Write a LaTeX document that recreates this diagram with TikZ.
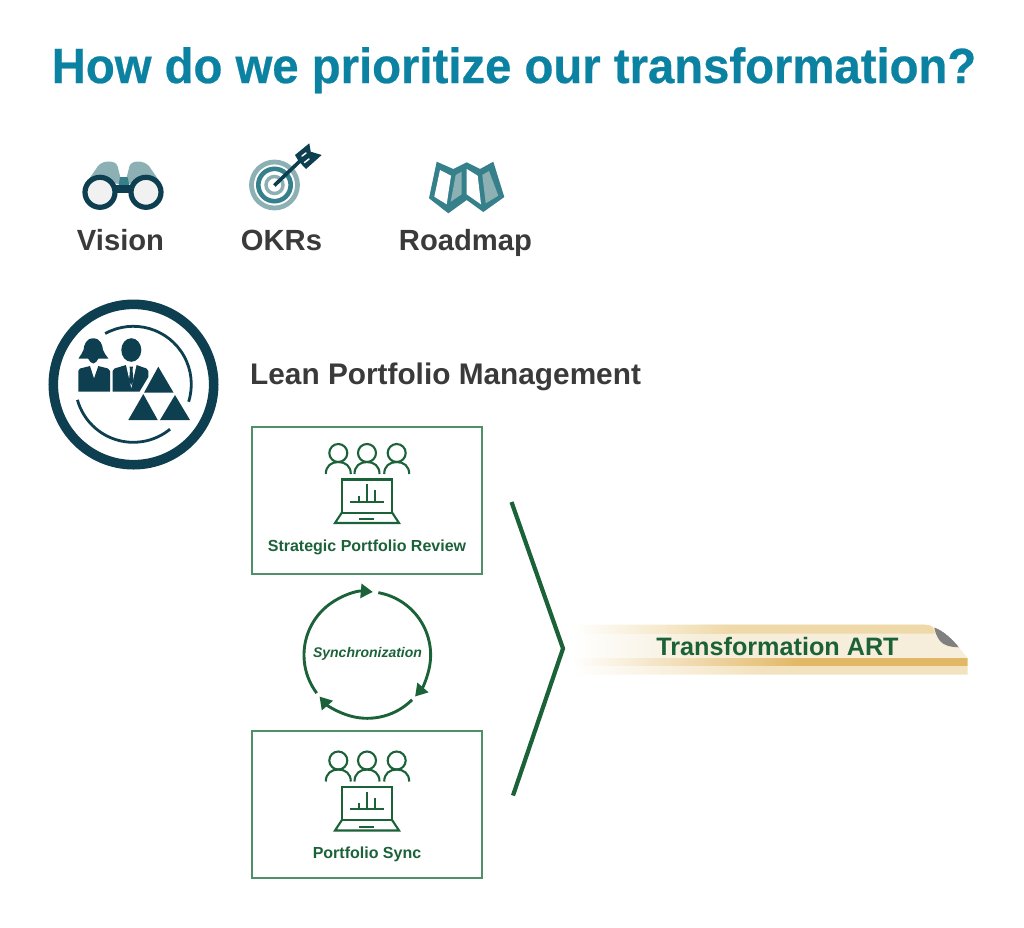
\documentclass[tikz,border=0pt]{standalone}
\usepackage{fontspec}
\setmainfont{Liberation Sans}
\newfontfamily\titlefont[BoldFeatures={FakeStretch=0.955,FakeBold=0.5}]{Liberation Sans}
\usetikzlibrary{arrows.meta,calc}
\definecolor{titleteal}{HTML}{0B82A1}
\definecolor{darkink}{HTML}{0D3F50}
\definecolor{midteal}{HTML}{35808A}
\definecolor{paleteal}{HTML}{8DB0B4}
\definecolor{labelgrey}{HTML}{3A3A3A}
\definecolor{leaf}{HTML}{1B6239}
\definecolor{leafbox}{HTML}{4F9069}
\definecolor{bandA}{HTML}{EFD9A8}
\definecolor{bandB}{HTML}{F6EEDA}
\definecolor{bandC}{HTML}{E2B866}
\definecolor{bandD}{HTML}{F3E2BE}
\definecolor{lensfill}{HTML}{F1F1F1}
\tikzset{
  x=1pt,y=-1pt,
  headline/.style={font=\titlefont\bfseries\fontsize{49.5}{52}\selectfont,text=titleteal,anchor=base,inner sep=0},
  iconlabel/.style={font=\bfseries\fontsize{29.2}{31}\selectfont,text=labelgrey,anchor=base,inner sep=0},
  sectionlabel/.style={font=\bfseries\fontsize{29.8}{32}\selectfont,text=labelgrey,anchor=base west,inner sep=0},
  boxlabel/.style={font=\bfseries\fontsize{16}{18}\selectfont,text=leaf,anchor=base,inner sep=0},
  syncbox/.style={draw=leafbox,line width=1.3pt,fill=white,minimum width=230pt,minimum height=147pt,inner sep=0},
  synclabel/.style={font=\bfseries\itshape\fontsize{14}{16}\selectfont,text=leaf,anchor=base,inner sep=0},
  trainlabel/.style={font=\bfseries\fontsize{25.2}{27}\selectfont,text=leaf,anchor=base,inner sep=0},
  looparc/.style={draw=leaf,line width=2.9pt,-{Triangle[length=12pt,width=14pt]}},
  iconline/.style={draw=leaf,line width=2.1pt,line join=miter},
  teamlaptop/.pic={
    \foreach \hx in {-28.7,0,29.7}{
      \draw[iconline] (\hx,-1) circle[radius=9];
      \draw[iconline] (\hx-12.5,20) .. controls (\hx-12.5,12) and (\hx-7,8) .. (\hx,8) .. controls (\hx+7,8) and (\hx+12.5,12) .. (\hx+12.5,20);
    }
    \draw[iconline] (-25.3,25.5) rectangle (25.3,58.8);
    \draw[iconline] (-25.3,58.8) -- (-32,69) -- (32,69) -- (25.3,58.8);
    \draw[iconline] (-17,47.7) -- (17,47.7);
    \draw[iconline] (-8.3,47.7) -- (-8.3,41.5);
    \draw[iconline] (0,47.7) -- (0,30);
    \draw[iconline] (8.3,47.7) -- (8.3,36);
    \draw[iconline] (-8.3,65.2) -- (7,65.2);
  }
}
\begin{document}
\begin{tikzpicture}
\useasboundingbox (0,0) rectangle (1024,927);
% title
\node[headline] (title) at (514,83) {How do we prioritize our transformation?};

% binoculars
\fill[paleteal] (87,182) -- (98,166) .. controls (101,162.5) and (105,161.5) .. (109,161.5) .. controls (113,161.5) and (116.5,163) .. (117.5,166) -- (122,184) -- cycle;
\fill[paleteal] (125,184) -- (129.5,166) .. controls (130.5,163) and (134,161.5) .. (138,161.5) .. controls (142,161.5) and (146,163) .. (149,166) -- (160,182) -- cycle;
\fill[midteal] (120,177) -- (127.5,177) -- (129.5,186) -- (118.5,186) -- cycle;
\fill[darkink] (113,185) rectangle (134,193);
\draw[darkink,line width=5.2pt,fill=lensfill] (100,192.3) circle[radius=15];
\draw[darkink,line width=5.2pt,fill=lensfill] (146,192.3) circle[radius=15];
\node[iconlabel] (vision) at (120.5,250) {Vision};

% target
\draw[paleteal,line width=4.8pt] (274.5,185) circle[radius=23];
\draw[midteal,line width=4.6pt] (274.5,185) circle[radius=16.2];
\draw[paleteal,line width=3.5pt] (274.5,185) circle[radius=8.5];
\draw[darkink,line width=3.6pt] (274.3,185.5) -- (300,161);
\fill[darkink] (295,155) -- (309.3,143.3) -- (310.7,151.7) -- (321.7,155) -- (306,169) -- (298.5,161) -- cycle;
\draw[white,line width=1.5pt,line cap=round] (302,156) -- (306,153) (304.5,162.5) -- (309,159);
\node[iconlabel] (okrs) at (281.5,250) {OKRs};

% map
\fill[midteal] (436.7,161.7) -- (453.3,169) -- (466.7,162.3) -- (480,169) -- (493.3,161.7) -- (504.3,197) -- (483.3,212) -- (466.7,200) -- (448.3,213.3) -- (429,198.3) -- cycle;
\fill[white] (440,170) -- (451,175.7) -- (446.7,204.3) -- (434.3,196.7) -- cycle;
\fill[paleteal] (455.7,175) -- (461.7,171.7) -- (461.7,194.3) -- (450.7,201.7) -- cycle;
\fill[white] (466.7,169) -- (477.7,175.7) -- (481,204.3) -- (466.7,194.3) -- cycle;
\fill[paleteal] (482.3,175) -- (489,171) -- (498.3,195.7) -- (485.7,203.3) -- cycle;
\node[iconlabel] (roadmap) at (465.5,250) {Roadmap};

% LPM emblem
\draw[darkink,line width=9.6pt] (133.5,384.5) circle[radius=80.2];
\coordinate (lpmc) at (133.3,384.3);
\draw[darkink,line width=2.8pt] (lpmc) ++(119:58pt) arc[start angle=119,end angle=-17.5,radius=58pt];
\draw[darkink,line width=2.8pt] (lpmc) ++(195.6:58pt) arc[start angle=195.6,end angle=309.3,radius=58pt];
% woman
\fill[darkink] (93.3,338.3) .. controls (86,338.3) and (84,345) .. (83.5,350) .. controls (82.5,353) and (80,356) .. (78.5,358.5) -- (88,358.5) .. controls (89.5,361) and (91,363.5) .. (93.3,363.5) .. controls (95.5,363.5) and (97,361) .. (98.5,358.5) -- (108.3,358.5) .. controls (106.5,356) and (104,353) .. (103,350) .. controls (102.5,345) and (100.5,338.3) .. (93.3,338.3) -- cycle;
\fill[darkink] (78.3,391.7) -- (78.3,371) -- (80,368.5) -- (90,366) -- (94,378.5) -- (98.3,366) -- (108,368.5) -- (110,371) -- (110,391.7) -- cycle;
% man
\fill[darkink] (131.3,350) ellipse[x radius=10,y radius=11.8];
\fill[darkink] (112.7,391.7) -- (112.7,371) -- (114.5,368.5) -- (126,365) -- (136.5,365) -- (146.5,368.5) -- (148.3,371) -- (148.3,377) -- (139.5,391.7) -- cycle;
\fill[white] (126,365) -- (136.5,365) -- (131.3,388) -- cycle;
\fill[darkink] (129.5,366.5) -- (133,366.5) -- (132.5,369.5) -- (133.5,381) -- (131.3,385) -- (129,381) -- (130,369.5) -- cycle;
% triangles
\fill[darkink] (158.3,366.7) -- (173.6,392.7) -- (144,392.7) -- cycle;
\fill[darkink] (143.3,394) -- (157.7,420) -- (128.3,420) -- cycle;
\fill[darkink] (175,395) -- (190,420) -- (160,420) -- cycle;

\node[sectionlabel] (lpm) at (250,384) {Lean Portfolio Management};

% boxes
\node[syncbox] (review) at (367,500.5) {};
\pic at (367,454) {teamlaptop};
\node[boxlabel] (reviewlabel) at (367,551) {Strategic Portfolio Review};
\node[syncbox] (sync) at (367,804.5) {};
\pic at (367,761.5) {teamlaptop};
\node[boxlabel] (synclbl) at (367,858.5) {Portfolio Sync};

% loop
\coordinate (loopc) at (367.3,655);
\draw[looparc] (loopc) ++(217:63.3pt) arc[start angle=217,end angle=85,radius=63.3pt];
\draw[looparc] (loopc) ++(80:63.3pt) arc[start angle=80,end angle=-41,radius=63.3pt];
\draw[looparc] (loopc) ++(-45:63.3pt) arc[start angle=-45,end angle=-139,radius=63.3pt];
\node[synclabel] (synctext) at (367.5,657) {Synchronization};

% chevron
\coordinate (chevA) at (511.5,502);
\coordinate (chevB) at (563,648.5);
\coordinate (chevC) at (513,795.5);
\draw[leaf,line width=4.2pt,line join=miter] (chevA) -- (chevB) -- (chevC);

% train
\begin{scope}
\clip (560,624.7) -- (925,624.7) .. controls (929,625) and (932,626) .. (934.3,627.5) .. controls (944,631) and (952,639) .. (959,647.3) -- (967.5,658) -- (967.5,674.5) -- (560,674.5) -- cycle;
\shade[left color=white,right color=bandB] (572,633) rectangle (700,658);
\fill[bandB] (699.5,624) rectangle (970,658);
\shade[left color=white,right color=bandA] (572,624) rectangle (730,633.5);
\fill[bandA] (729.5,624) -- (930,624) .. controls (933,627) and (934,630) .. (935,633.5) -- (729.5,633.5) -- cycle;
\shade[left color=white,right color=bandC] (572,658) rectangle (800,666.3);
\fill[bandC] (799.5,658) rectangle (970,666.3);
\shade[left color=white,right color=bandD] (572,666.3) rectangle (760,675);
\fill[bandD] (759.5,666.3) rectangle (970,675);
\fill[black!50!white] (934.3,627.5) .. controls (944,631) and (952,639) .. (959,647.3) .. controls (950,647) and (944,645.5) .. (940,641) .. controls (937,637) and (935,632) .. (934.3,627.5) -- cycle;
\end{scope}
\node[trainlabel] (art) at (777.5,655) {Transformation ART};
\end{tikzpicture}
\end{document}
